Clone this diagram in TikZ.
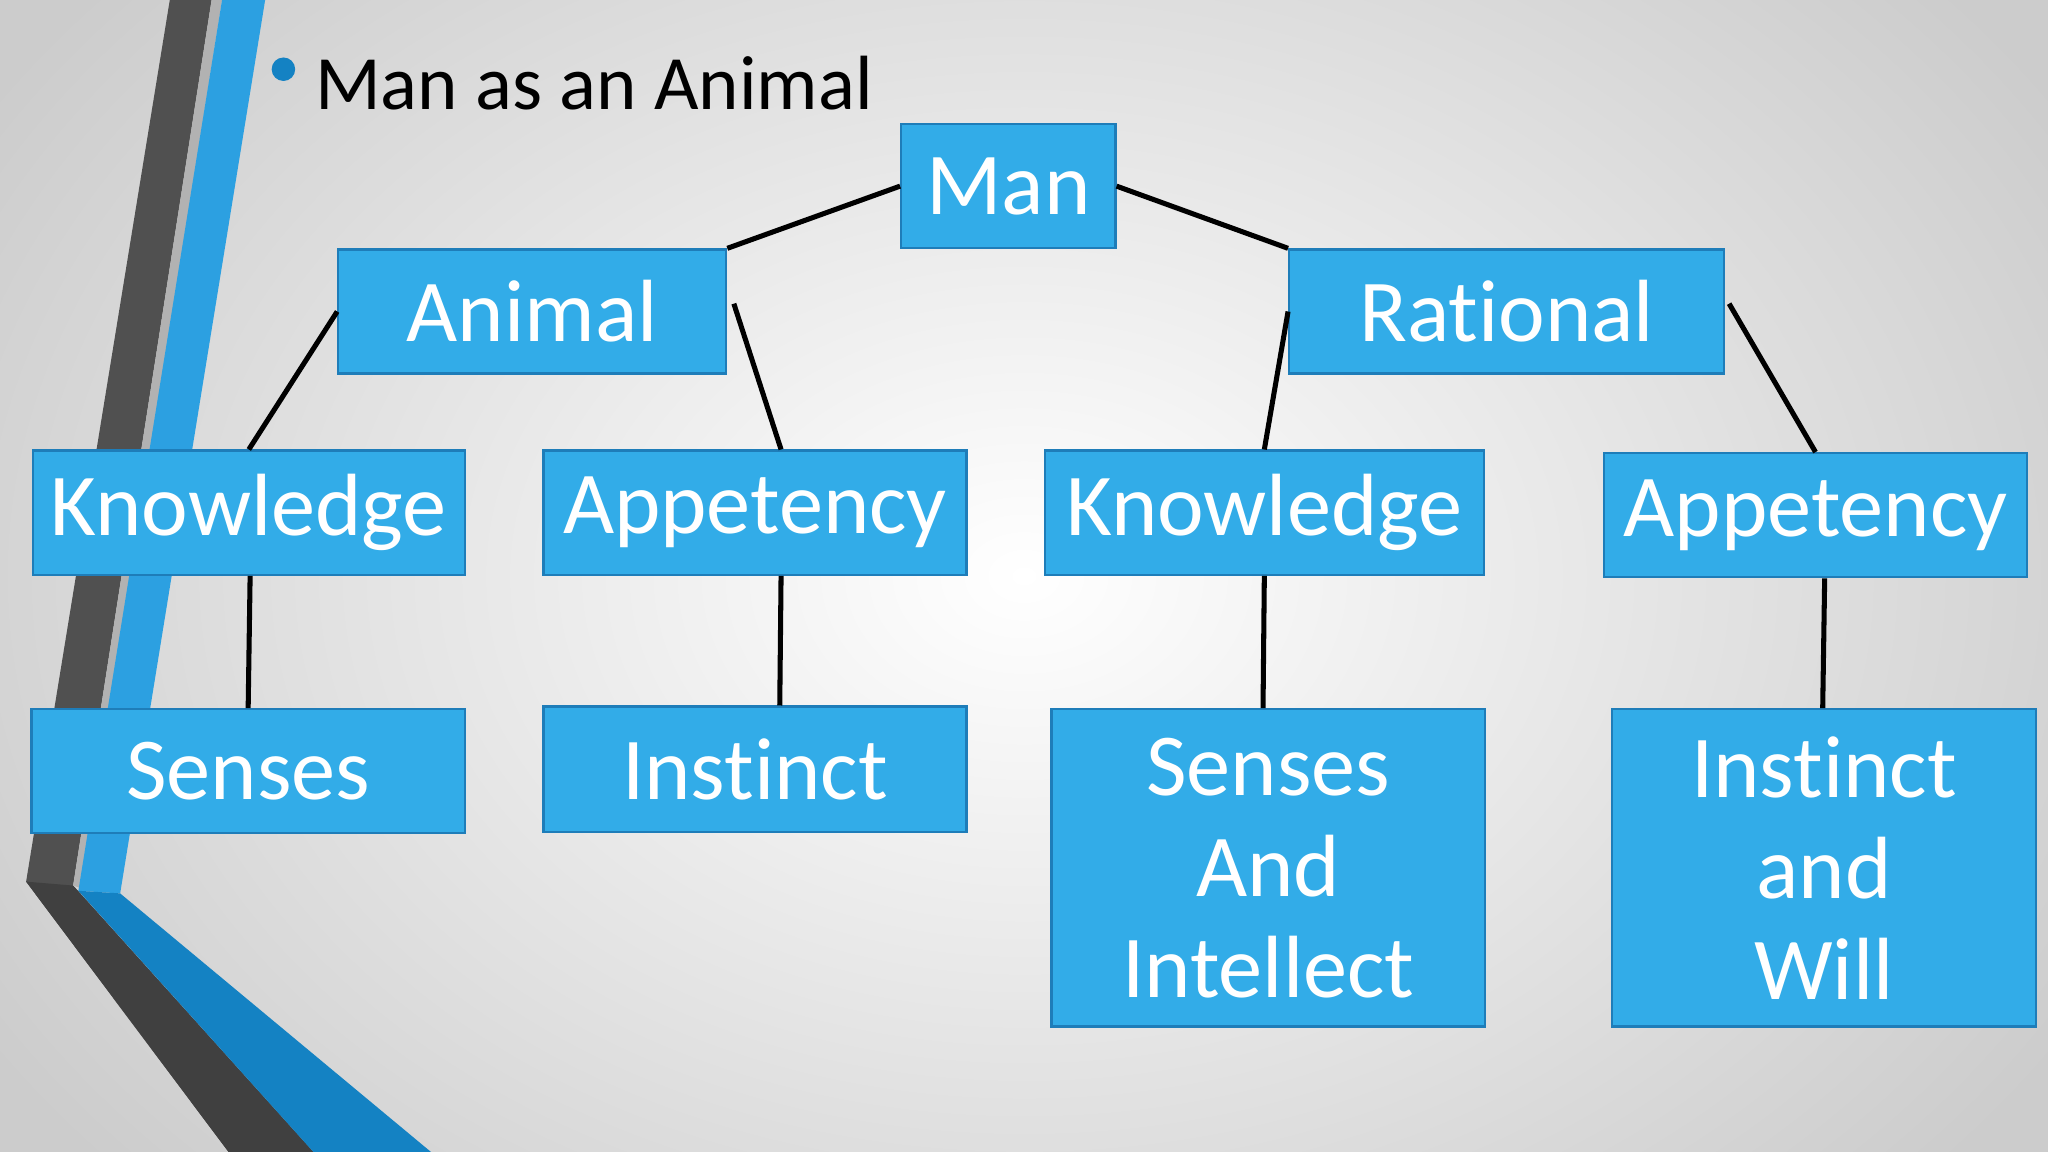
\documentclass[tikz,border=0pt]{standalone}
\usepackage{fontspec}
\setmainfont[Ligatures=NoCommon]{Carlito}
\usetikzlibrary{calc}
\definecolor{boxblue}{RGB}{50,172,232}
\definecolor{boxedge}{RGB}{30,125,185}
\definecolor{stripeblue}{RGB}{44,160,225}
\definecolor{darkblue}{RGB}{20,130,195}
\definecolor{stripegray}{RGB}{80,80,80}
\tikzset{
 box/.style={draw=boxedge,line width=1pt,fill=boxblue,text=white,font=\fontsize{38.5}{44}\selectfont,align=center,inner sep=0pt},
 conn/.style={line width=2.2pt,black}
}
\begin{document}
\begin{tikzpicture}[x=0.02cm,y=-0.02cm]
\useasboundingbox (0,0) rectangle (1568,882);
\shade[inner color=white,outer color=black!20] (-150,-250) rectangle (1718,1132);
\clip (0,0) rectangle (1568,882);
% stripes
\fill[stripegray] (130,0) -- (162,0) -- (56,678) -- (240,882) -- (175,882) -- (20,675) -- cycle;
\fill[black!75] (20,675) -- (56,678) -- (240,882) -- (175,882) -- cycle;
\fill[black!30] (162,0) -- (170,0) -- (62,680) -- (56,678) -- cycle;
\fill[stripeblue] (170,0) -- (203,0) -- (92,684) -- (60,682) -- cycle;
\fill[darkblue] (60,682) -- (92,684) -- (330,882) -- (240,882) -- cycle;
% title
\fill[darkblue] (217,53) circle (9);
\node[anchor=base west,inner sep=0pt,font=\fontsize{33.5}{40}\selectfont] (title) at (241,84) {Man as an Animal};
% boxes
\node[box,minimum width=3.28cm,minimum height=1.9cm] (man) at (772,142.5) {Man};
\node[box,minimum width=5.94cm,minimum height=1.9cm] (animal) at (407.5,238.5) {Animal};
\node[box,minimum width=6.66cm,minimum height=1.9cm] (rational) at (1153.5,238.5) {Rational};
\node[box,minimum width=6.62cm,minimum height=1.9cm] (k1) at (190.5,392.5) {Knowledge};
\node[box,minimum width=6.48cm,minimum height=1.9cm] (a1) at (578,392.5) {Appetency};
\node[box,minimum width=6.72cm,minimum height=1.9cm] (k2) at (968,392.5) {Knowledge};
\node[box,minimum width=6.48cm,minimum height=1.9cm] (a2) at (1390,394.5) {Appetency};
\node[box,minimum width=6.64cm,minimum height=1.9cm] (s1) at (190,590.5) {Senses};
\node[box,minimum width=6.48cm,minimum height=1.92cm] (i1) at (578,589) {Instinct};
\node[box,minimum width=6.64cm,minimum height=4.86cm,font=\fontsize{38.5}{44}\selectfont] (s2) at (971,664.5) {Senses\\And\\Intellect};
\node[box,minimum width=6.5cm,minimum height=4.86cm,font=\fontsize{38.5}{44}\selectfont] (i2) at (1396.5,664.5) {Instinct\\and\\Will};
% connectors
\draw[conn] (man.west) -- (animal.north east);
\draw[conn] (man.east) -- (rational.north west);
\draw[conn] (animal.west) -- (k1.north);
\draw[conn] ($(animal.east)+(5,-6)$) -- ($(a1.north)+(20,0)$);
\draw[conn] (rational.west) -- (k2.north);
\draw[conn] ($(rational.east)+(3,-6)$) -- (a2.north);
\draw[conn] ($(k1.south)+(1,0)$) -- (s1.north);
\draw[conn] ($(a1.south)+(20,0)$) -- ($(i1.north)+(19,0)$);
\draw[conn] (k2.south) -- ($(s2.north)+(-4,0)$);
\draw[conn] ($(a2.south)+(7,0)$) -- ($(i2.north)+(-1,0)$);
\end{tikzpicture}
\end{document}
